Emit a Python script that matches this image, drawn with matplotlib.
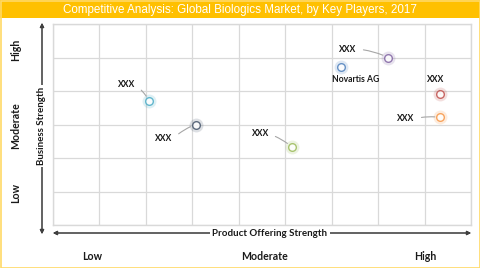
import matplotlib.pyplot as plt
from matplotlib.patches import Rectangle

# companies on the grid (x: product offering strength, y: business strength)
names = ["XXX", "XXX", "XXX", "Novartis AG", "XXX", "XXX", "XXX"]
x_vals = [2.07, 3.07, 5.14, 6.20, 7.21, 8.34, 8.34]
y_vals = [3.71, 3.00, 2.33, 4.72, 5.00, 3.91, 3.21]
colors = ["#4BACC6", "#44546A", "#9BBB59", "#4F81BD", "#8064A2", "#C0504D", "#F79646"]
label_x = [1.59, 2.39, 4.46, 6.52, 6.35, 8.24, 7.60]
label_y = [4.18, 2.57, 2.72, 4.34, 5.25, 4.35, 3.17]
leader = [True, True, True, False, True, True, True]

title = "Competitive Analysis: Global Biologics Market, by Key Players, 2017"
level_labels = ["Low", "Moderate", "High"]

W, H = 480, 268
fig = plt.figure(figsize=(W / 100, H / 100), dpi=100)
fig.patch.set_facecolor("white")


def fx(px):
    return px / W


def fy(py):
    return 1 - py / H


# title bar and frame
fig.add_artist(Rectangle((0, fy(18)), 1, 18 / H, transform=fig.transFigure,
                         facecolor="#FFC000", edgecolor="none"))
fig.add_artist(Rectangle((fx(0.5), fy(267.5)), 1 - 1 / W, 1 - 1 / H,
                         transform=fig.transFigure, facecolor="none",
                         edgecolor="#FFD966", linewidth=1.2))
fig.text(0.5, fy(9.5), title, ha="center", va="center", color="white",
         fontsize=8.4, family="Liberation Sans")

ax = fig.add_axes([fx(53), fy(225), fx(418), 201 / H])
ax.set_xlim(0, 9)
ax.set_ylim(0, 6)
ax.set_xticks(range(10))
ax.set_yticks(range(7))
ax.grid(True, color="#D9D9D9", linewidth=0.9)
ax.tick_params(length=0, labelbottom=False, labelleft=False)
for s in ax.spines.values():
    s.set_color("#D9D9D9")
    s.set_linewidth(1.0)
ax.set_axisbelow(True)

for i in range(len(names)):
    ax.plot(x_vals[i], y_vals[i], "o", ms=10, color=colors[i], alpha=0.18,
            mec="none", zorder=3)
    ax.plot(x_vals[i], y_vals[i], "o", ms=5.5, mfc="white", mec=colors[i],
            mew=1.0, alpha=0.85, zorder=4)
    if leader[i]:
        dx = x_vals[i] - label_x[i]
        if abs(dx) < 0.3:
            rel = (0.5, 0.0)
        else:
            rel = (1.0, 0.5)
        ax.annotate(names[i], xy=(x_vals[i], y_vals[i]),
                    xytext=(label_x[i], label_y[i]), ha="center", va="center",
                    fontsize=6.2, fontweight="bold", family="Lato",
                    color="#1A1A1A",
                    arrowprops=dict(arrowstyle="-", color="#A6A6A6", lw=0.8,
                                    relpos=rel, shrinkA=3, shrinkB=4,
                                    connectionstyle="arc3,rad=-0.1"))
    else:
        ax.text(label_x[i], label_y[i], names[i], ha="center", va="center",
                fontsize=6.2, fontweight="bold", family="Lato", color="#1A1A1A")

# axis arrows
arrow_kw = dict(arrowstyle="<|-|>", color="#404040", lw=0.8, mutation_scale=6,
                shrinkA=0, shrinkB=0)
fig.add_artist(plt.annotate("", xy=(fx(42), fy(23)), xytext=(fx(42), fy(234)),
                            xycoords="figure fraction",
                            textcoords="figure fraction", arrowprops=arrow_kw))
fig.add_artist(plt.annotate("", xy=(fx(471), fy(233)), xytext=(fx(53), fy(233)),
                            xycoords="figure fraction",
                            textcoords="figure fraction", arrowprops=arrow_kw))
bbox_w = dict(facecolor="white", edgecolor="none", pad=1.5)
fig.text(fx(42), fy(126), "Business Strength", rotation=90, ha="center",
         va="center", fontsize=7.0, fontweight="bold", family="Lato",
         color="#1A1A1A", bbox=bbox_w)
fig.text(fx(270), fy(234), "Product Offering Strength", ha="center",
         va="center", fontsize=7.0, fontweight="bold", family="Lato",
         color="#1A1A1A", bbox=bbox_w)

# level labels
for lab, py in zip(level_labels, [193, 126, 50]):
    fig.text(fx(16), fy(py), lab, rotation=90, ha="center", va="center",
             fontsize=7.6, fontweight="bold", family="Lato", color="#1A1A1A")
for lab, px in zip(level_labels, [92, 264, 425]):
    fig.text(fx(px), fy(256), lab, ha="center", va="center",
             fontsize=7.6, fontweight="bold", family="Lato", color="#1A1A1A")

fig.savefig("out.png", dpi=100)
